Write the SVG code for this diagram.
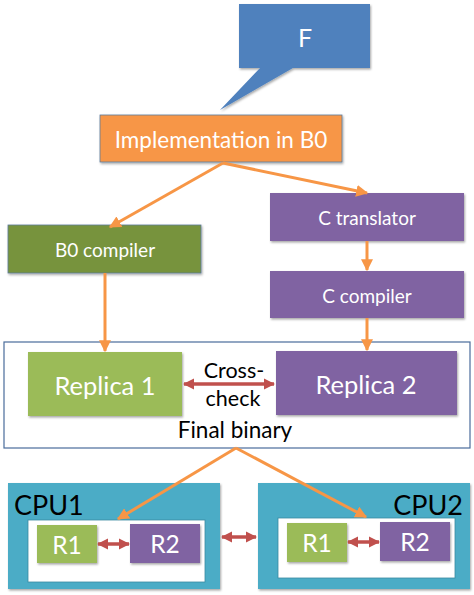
<svg xmlns="http://www.w3.org/2000/svg" width="474" height="595" viewBox="0 0 474 595">
<defs>
<marker id="ao" viewBox="0 0 10 10" refX="9" refY="5" markerWidth="4" markerHeight="4" orient="auto-start-reverse" markerUnits="strokeWidth"><path d="M0,0 L10,5 L0,10 z" fill="#F79646"/></marker>
<marker id="ar" viewBox="0 0 10 10" refX="9" refY="5" markerWidth="3.2" markerHeight="3.2" orient="auto-start-reverse" markerUnits="strokeWidth"><path d="M0,0 L10,5 L0,10 z" fill="#C0504D"/></marker>
<filter id="sh" x="-10%" y="-10%" width="120%" height="130%"><feDropShadow dx="1" dy="1.5" stdDeviation="1" flood-color="#000" flood-opacity="0.35"/></filter>
</defs>
<style>
text{font-family:Lato,"Open Sans","Liberation Sans",sans-serif;text-anchor:middle;dominant-baseline:central}
.w{fill:#fff}
.k{fill:#000}
.box{filter:url(#sh)}
.oc{stroke:#F79646;stroke-width:3;fill:none;marker-end:url(#ao)}
.rc{stroke:#C0504D;stroke-width:3.5;fill:none;marker-end:url(#ar);marker-start:url(#ar)}
</style>
<rect width="474" height="595" fill="#fff"/>

<g id="F">
<path class="box" d="M239,4 H370 V68 H293 L220,110 L260,68 H239 Z" fill="#4F81BD"/>
<text class="w" x="305" y="37" font-size="25">F</text>
</g>

<g id="impl">
<rect class="box" x="100" y="115" width="242" height="47" fill="#F79646" stroke="#5C7A99" stroke-width="0.8"/>
<text class="w" x="221" y="139" font-size="22.5">Implementation in B0</text>
</g>

<g id="b0comp">
<rect class="box" x="8" y="225" width="193" height="48" fill="#77933C" stroke="#5C7A99" stroke-width="0.8"/>
<text class="w" x="105" y="249" font-size="19">B0 compiler</text>
</g>

<g id="ctrans">
<rect class="box" x="270" y="193" width="194" height="48" fill="#8064A2"/>
<text class="w" x="367" y="217" font-size="19">C translator</text>
</g>

<g id="ccomp">
<rect class="box" x="270" y="271" width="194" height="47" fill="#8064A2"/>
<text class="w" x="367" y="295" font-size="19">C compiler</text>
</g>

<g id="final">
<rect x="4" y="342" width="466" height="106" fill="#fff" stroke="#4A6C9B" stroke-width="1.2"/>
<text class="k" x="235" y="429" font-size="22.5">Final binary</text>
</g>

<g id="rep1">
<rect class="box" x="28" y="352" width="154" height="64" fill="#9BBB59"/>
<text class="w" x="105" y="385" font-size="25.5">Replica 1</text>
</g>

<g id="rep2">
<rect class="box" x="276" y="351" width="181" height="64" fill="#8064A2"/>
<text class="w" x="366" y="384" font-size="25.5">Replica 2</text>
</g>

<g id="crosscheck">
<text class="k" x="234" y="370" font-size="21.5">Cross-</text>
<text class="k" x="233" y="398" font-size="21.5">check</text>
</g>

<g id="cpu1">
<rect class="box" x="8" y="483" width="212" height="106" fill="#4BACC6"/>
<text class="k" x="14" y="504" font-size="27" style="text-anchor:start">CPU1</text>
<rect x="28" y="520" width="177" height="62" fill="#fff" stroke="#3A8AA0" stroke-width="0.8"/>
<g id="cpu1-r1"><rect class="box" x="37" y="525" width="60" height="38" fill="#9BBB59"/><text class="w" x="67" y="544" font-size="24.5">R1</text></g>
<g id="cpu1-r2"><rect class="box" x="130" y="524" width="70" height="39" fill="#8064A2"/><text class="w" x="165" y="543" font-size="24.5">R2</text></g>
</g>

<g id="cpu2">
<rect class="box" x="258" y="483" width="212" height="106" fill="#4BACC6"/>
<text class="k" x="463" y="504" font-size="27" style="text-anchor:end">CPU2</text>
<rect x="278" y="518" width="177" height="60" fill="#fff" stroke="#3A8AA0" stroke-width="0.8"/>
<g id="cpu2-r1"><rect class="box" x="287" y="523" width="60" height="39" fill="#9BBB59"/><text class="w" x="317" y="542" font-size="24.5">R1</text></g>
<g id="cpu2-r2"><rect class="box" x="380" y="522" width="70" height="39" fill="#8064A2"/><text class="w" x="415" y="541" font-size="24.5">R2</text></g>
</g>

<g id="connectors">
<line class="oc" x1="223" y1="163" x2="110" y2="227"/>
<line class="oc" x1="223" y1="163" x2="367" y2="193"/>
<line class="oc" x1="367" y1="241" x2="367" y2="270"/>
<line class="oc" x1="105" y1="273" x2="105" y2="351"/>
<line class="oc" x1="367" y1="318" x2="367" y2="350"/>
<line class="oc" x1="236" y1="448" x2="118" y2="519"/>
<line class="oc" x1="236" y1="448" x2="366" y2="517"/>
<line class="rc" x1="184" y1="384" x2="274" y2="384"/>
<line class="rc" x1="98" y1="544" x2="129" y2="544"/>
<line class="rc" x1="348" y1="542" x2="379" y2="542"/>
<line class="rc" x1="222" y1="537" x2="256" y2="537"/>
</g>
</svg>
